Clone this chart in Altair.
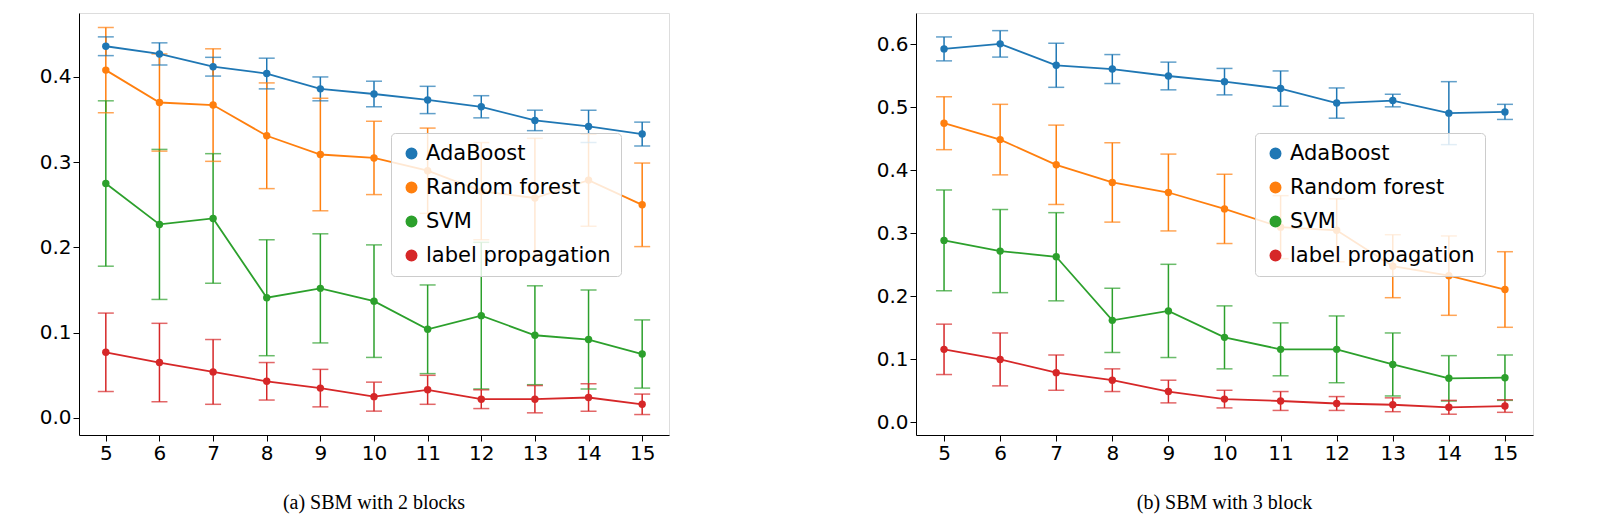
import altair as alt
import pandas as pd

xs = list(range(5, 16))
methods = ["AdaBoost", "Random forest", "SVM", "label propagation"]
colors = ["#1f77b4", "#ff7f0e", "#2ca02c", "#d62728"]

a_mean = {
    "AdaBoost": [0.436, 0.427, 0.412, 0.404, 0.386, 0.380, 0.373, 0.365, 0.349, 0.342, 0.333],
    "Random forest": [0.408, 0.370, 0.367, 0.331, 0.309, 0.305, 0.290, 0.266, 0.258, 0.279, 0.250],
    "SVM": [0.275, 0.227, 0.234, 0.141, 0.152, 0.137, 0.104, 0.120, 0.097, 0.092, 0.075],
    "label propagation": [0.077, 0.065, 0.054, 0.043, 0.035, 0.025, 0.033, 0.022, 0.022, 0.024, 0.016],
}
a_err = {
    "AdaBoost": [0.011, 0.013, 0.011, 0.018, 0.014, 0.015, 0.016, 0.013, 0.012, 0.019, 0.014],
    "Random forest": [0.050, 0.057, 0.066, 0.062, 0.066, 0.043, 0.050, 0.057, 0.070, 0.054, 0.049],
    "SVM": [0.097, 0.088, 0.076, 0.068, 0.064, 0.066, 0.052, 0.086, 0.058, 0.058, 0.040],
    "label propagation": [0.046, 0.046, 0.038, 0.022, 0.022, 0.017, 0.017, 0.011, 0.016, 0.016, 0.012],
}
b_mean = {
    "AdaBoost": [0.593, 0.601, 0.567, 0.561, 0.550, 0.541, 0.530, 0.507, 0.511, 0.491, 0.493],
    "Random forest": [0.475, 0.449, 0.409, 0.381, 0.365, 0.339, 0.310, 0.305, 0.248, 0.233, 0.211],
    "SVM": [0.289, 0.272, 0.263, 0.162, 0.177, 0.135, 0.116, 0.116, 0.092, 0.070, 0.071],
    "label propagation": [0.116, 0.100, 0.079, 0.067, 0.049, 0.037, 0.034, 0.030, 0.028, 0.024, 0.026],
}
b_err = {
    "AdaBoost": [0.019, 0.021, 0.035, 0.023, 0.022, 0.021, 0.028, 0.024, 0.010, 0.050, 0.012],
    "Random forest": [0.042, 0.056, 0.063, 0.063, 0.061, 0.055, 0.050, 0.050, 0.050, 0.063, 0.060],
    "SVM": [0.080, 0.066, 0.070, 0.051, 0.074, 0.050, 0.042, 0.053, 0.050, 0.036, 0.036],
    "label propagation": [0.040, 0.042, 0.028, 0.018, 0.018, 0.014, 0.015, 0.011, 0.011, 0.011, 0.010],
}


def frame(mean, err):
    rows = []
    for m in methods:
        for x, v, e in zip(xs, mean[m], err[m]):
            rows.append({"x": x, "method": m, "y": v, "lo": v - e, "hi": v + e})
    return pd.DataFrame(rows)


def panel(mean, err, ydom, yvals, caption, w):
    df = frame(mean, err)
    base = alt.Chart(df)
    color = alt.Color("method:N", scale=alt.Scale(domain=methods, range=colors),
                      sort=methods,
                      legend=alt.Legend(title=None, orient="none", legendX=w - 278, legendY=120,
                                        labelFontSize=21, labelFont="DejaVu Sans", symbolSize=110,
                                        symbolType="circle", fillColor="rgba(255,255,255,0.82)",
                                        strokeColor="#ccc", padding=10, cornerRadius=4,
                                        rowPadding=12, labelColor="black", labelLimit=0,
                                        symbolOpacity=1))
    x = alt.X("x:Q", scale=alt.Scale(domain=[4.5, 15.5], nice=False),
              axis=alt.Axis(values=xs, title=None, grid=False, labelFontSize=20, tickSize=6,
                            labelColor="black", domainColor="black", tickColor="black",
                            labelFont="DejaVu Sans"))
    y = alt.Y("y:Q", scale=alt.Scale(domain=ydom, nice=False, zero=False),
              axis=alt.Axis(values=yvals, format=".1f", title=None, grid=False, labelFontSize=20,
                            tickSize=6, labelColor="black", domainColor="black", tickColor="black",
                            labelFont="DejaVu Sans"))
    rules = base.mark_rule(strokeWidth=1.5).encode(x=x, y=alt.Y("lo:Q"), y2="hi:Q", color=color)
    caps_lo = base.mark_tick(orient="horizontal", size=16, thickness=1.5).encode(x=x, y=alt.Y("lo:Q"), color=color)
    caps_hi = base.mark_tick(orient="horizontal", size=16, thickness=1.5).encode(x=x, y=alt.Y("hi:Q"), color=color)
    line = base.mark_line(strokeWidth=1.8).encode(x=x, y=y, color=color)
    pts = base.mark_point(filled=True, size=55, opacity=1).encode(x=x, y=y, color=color)
    return alt.layer(rules, caps_lo, caps_hi, line, pts).properties(
        width=w, height=422,
        title=alt.TitleParams(caption, orient="bottom", font="Liberation Serif", fontSize=20,
                              fontWeight="normal", offset=30, color="black"))


left = panel(a_mean, a_err, [-0.02, 0.475], [0.0, 0.1, 0.2, 0.3, 0.4], "(a) SBM with 2 blocks", 590)
right = panel(b_mean, b_err, [-0.02, 0.65], [0.0, 0.1, 0.2, 0.3, 0.4, 0.5, 0.6], "(b) SBM with 3 block", 617)

chart = alt.hconcat(left, right, spacing=205).resolve_scale(y="independent", color="independent") \
    .resolve_legend(color="independent").configure_view(stroke="black", strokeWidth=1) \
    .configure(background="white", padding={"left": 30, "top": 4, "right": 5, "bottom": 5})

chart.save("out.html", embed_options={"renderer": "svg", "actions": False})
